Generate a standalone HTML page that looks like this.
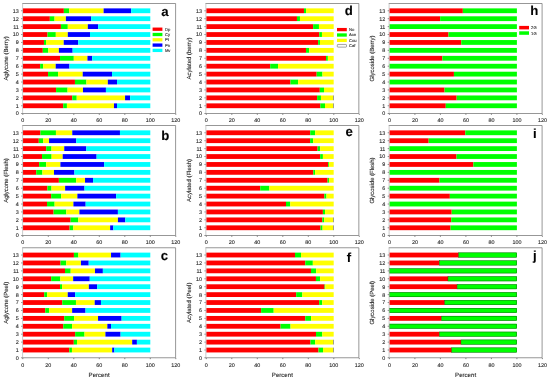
<!DOCTYPE html>
<html><head><meta charset="utf-8"><title>Figure</title>
<style>
html,body{margin:0;padding:0;background:#fff;}
body{width:550px;height:381px;overflow:hidden;font-family:"Liberation Sans",Arial,sans-serif;}
svg{display:block;}
svg text{stroke:#2a2a2a;stroke-width:0.12px;}
svg text.lg{stroke:#333;stroke-width:0.12px;}
</style></head><body>
<svg width="550" height="381" viewBox="0 0 550 381" font-family="Liberation Sans, Arial, sans-serif"  fill="#2a2a2a" shape-rendering="auto" text-rendering="geometricPrecision">
<rect x="22.9" y="103.38" width="40.32" height="4.8" fill="#ff0000"/>
<rect x="63.22" y="103.38" width="3.7" height="4.8" fill="#00ff00"/>
<rect x="66.92" y="103.38" width="47.05" height="4.8" fill="#ffff00"/>
<rect x="113.96" y="103.38" width="3.06" height="4.8" fill="#0000ff"/>
<rect x="117.02" y="103.38" width="33.28" height="4.8" fill="#00ffff"/>
<rect x="22.9" y="95.47" width="49.37" height="4.8" fill="#ff0000"/>
<rect x="72.27" y="95.47" width="4.46" height="4.8" fill="#00ff00"/>
<rect x="76.73" y="95.47" width="48.32" height="4.8" fill="#ffff00"/>
<rect x="125.06" y="95.47" width="5.1" height="4.8" fill="#0000ff"/>
<rect x="130.16" y="95.47" width="20.14" height="4.8" fill="#00ffff"/>
<rect x="22.9" y="87.55" width="33.18" height="4.8" fill="#ff0000"/>
<rect x="56.08" y="87.55" width="11.48" height="4.8" fill="#00ff00"/>
<rect x="67.55" y="87.55" width="15.43" height="4.8" fill="#ffff00"/>
<rect x="82.98" y="87.55" width="22.95" height="4.8" fill="#0000ff"/>
<rect x="105.93" y="87.55" width="44.37" height="4.8" fill="#00ffff"/>
<rect x="22.9" y="79.63" width="52.05" height="4.8" fill="#ff0000"/>
<rect x="74.95" y="79.63" width="11.48" height="4.8" fill="#00ff00"/>
<rect x="86.42" y="79.63" width="21.42" height="4.8" fill="#ffff00"/>
<rect x="107.84" y="79.63" width="9.18" height="4.8" fill="#0000ff"/>
<rect x="117.02" y="79.63" width="33.28" height="4.8" fill="#00ffff"/>
<rect x="22.9" y="71.72" width="25.14" height="4.8" fill="#ff0000"/>
<rect x="48.05" y="71.72" width="10.07" height="4.8" fill="#00ff00"/>
<rect x="58.12" y="71.72" width="24.61" height="4.8" fill="#ffff00"/>
<rect x="82.72" y="71.72" width="29.33" height="4.8" fill="#0000ff"/>
<rect x="112.05" y="71.72" width="38.25" height="4.8" fill="#00ffff"/>
<rect x="22.9" y="63.8" width="17.24" height="4.8" fill="#ff0000"/>
<rect x="40.14" y="63.8" width="3.06" height="4.8" fill="#00ff00"/>
<rect x="43.2" y="63.8" width="12.5" height="4.8" fill="#ffff00"/>
<rect x="55.7" y="63.8" width="13.77" height="4.8" fill="#0000ff"/>
<rect x="69.47" y="63.8" width="80.83" height="4.8" fill="#00ffff"/>
<rect x="22.9" y="55.88" width="37.13" height="4.8" fill="#ff0000"/>
<rect x="60.03" y="55.88" width="13.77" height="4.8" fill="#00ff00"/>
<rect x="73.8" y="55.88" width="13.64" height="4.8" fill="#ffff00"/>
<rect x="87.44" y="55.88" width="4.72" height="4.8" fill="#0000ff"/>
<rect x="92.16" y="55.88" width="58.14" height="4.8" fill="#00ffff"/>
<rect x="22.9" y="47.96" width="19.92" height="4.8" fill="#ff0000"/>
<rect x="42.82" y="47.96" width="5.48" height="4.8" fill="#00ff00"/>
<rect x="48.3" y="47.96" width="10.58" height="4.8" fill="#ffff00"/>
<rect x="58.88" y="47.96" width="13.77" height="4.8" fill="#0000ff"/>
<rect x="72.65" y="47.96" width="77.65" height="4.8" fill="#00ffff"/>
<rect x="22.9" y="40.05" width="21.06" height="4.8" fill="#ff0000"/>
<rect x="43.97" y="40.05" width="2.04" height="4.8" fill="#00ff00"/>
<rect x="46" y="40.05" width="17.72" height="4.8" fill="#ffff00"/>
<rect x="63.73" y="40.05" width="14.47" height="4.8" fill="#0000ff"/>
<rect x="78.2" y="40.05" width="72.1" height="4.8" fill="#00ffff"/>
<rect x="22.9" y="32.13" width="24.63" height="4.8" fill="#ff0000"/>
<rect x="47.53" y="32.13" width="8.29" height="4.8" fill="#00ff00"/>
<rect x="55.82" y="32.13" width="11.98" height="4.8" fill="#ffff00"/>
<rect x="67.81" y="32.13" width="22.19" height="4.8" fill="#0000ff"/>
<rect x="89.99" y="32.13" width="60.31" height="4.8" fill="#00ffff"/>
<rect x="22.9" y="24.21" width="38.02" height="4.8" fill="#ff0000"/>
<rect x="60.92" y="24.21" width="6.88" height="4.8" fill="#00ff00"/>
<rect x="67.81" y="24.21" width="20.02" height="4.8" fill="#ffff00"/>
<rect x="87.82" y="24.21" width="10.33" height="4.8" fill="#0000ff"/>
<rect x="98.15" y="24.21" width="52.15" height="4.8" fill="#00ffff"/>
<rect x="22.9" y="16.3" width="26.93" height="4.8" fill="#ff0000"/>
<rect x="49.83" y="16.3" width="4.72" height="4.8" fill="#00ff00"/>
<rect x="54.55" y="16.3" width="11.35" height="4.8" fill="#ffff00"/>
<rect x="65.89" y="16.3" width="25.25" height="4.8" fill="#0000ff"/>
<rect x="91.14" y="16.3" width="59.16" height="4.8" fill="#00ffff"/>
<rect x="22.9" y="8.38" width="40.96" height="4.8" fill="#ff0000"/>
<rect x="63.86" y="8.38" width="5.35" height="4.8" fill="#00ff00"/>
<rect x="69.21" y="8.38" width="34.42" height="4.8" fill="#ffff00"/>
<rect x="103.63" y="8.38" width="27.54" height="4.8" fill="#0000ff"/>
<rect x="131.17" y="8.38" width="19.12" height="4.8" fill="#00ffff"/>
<path d="M22.25 3.5H175.6V113.5H22.25" fill="none" stroke="#6a6a6a" stroke-width="0.7"/>
<path d="M22.6 3.5V113.5" fill="none" stroke="#b4b4b4" stroke-width="0.7"/>
<line x1="21.2" y1="113.5" x2="22.4" y2="113.5" stroke="#555" stroke-width="0.7"/>
<text x="18.8" y="115.44" font-size="5.4" text-anchor="end">0</text>
<line x1="21.2" y1="105.78" x2="22.4" y2="105.78" stroke="#555" stroke-width="0.7"/>
<text x="18.8" y="107.73" font-size="5.4" text-anchor="end">1</text>
<line x1="21.2" y1="97.87" x2="22.4" y2="97.87" stroke="#555" stroke-width="0.7"/>
<text x="18.8" y="99.81" font-size="5.4" text-anchor="end">2</text>
<line x1="21.2" y1="89.95" x2="22.4" y2="89.95" stroke="#555" stroke-width="0.7"/>
<text x="18.8" y="91.89" font-size="5.4" text-anchor="end">3</text>
<line x1="21.2" y1="82.03" x2="22.4" y2="82.03" stroke="#555" stroke-width="0.7"/>
<text x="18.8" y="83.98" font-size="5.4" text-anchor="end">4</text>
<line x1="21.2" y1="74.12" x2="22.4" y2="74.12" stroke="#555" stroke-width="0.7"/>
<text x="18.8" y="76.06" font-size="5.4" text-anchor="end">5</text>
<line x1="21.2" y1="66.2" x2="22.4" y2="66.2" stroke="#555" stroke-width="0.7"/>
<text x="18.8" y="68.14" font-size="5.4" text-anchor="end">6</text>
<line x1="21.2" y1="58.28" x2="22.4" y2="58.28" stroke="#555" stroke-width="0.7"/>
<text x="18.8" y="60.23" font-size="5.4" text-anchor="end">7</text>
<line x1="21.2" y1="50.36" x2="22.4" y2="50.36" stroke="#555" stroke-width="0.7"/>
<text x="18.8" y="52.31" font-size="5.4" text-anchor="end">8</text>
<line x1="21.2" y1="42.45" x2="22.4" y2="42.45" stroke="#555" stroke-width="0.7"/>
<text x="18.8" y="44.39" font-size="5.4" text-anchor="end">9</text>
<line x1="21.2" y1="34.53" x2="22.4" y2="34.53" stroke="#555" stroke-width="0.7"/>
<text x="18.8" y="36.47" font-size="5.4" text-anchor="end">10</text>
<line x1="21.2" y1="26.61" x2="22.4" y2="26.61" stroke="#555" stroke-width="0.7"/>
<text x="18.8" y="28.56" font-size="5.4" text-anchor="end">11</text>
<line x1="21.2" y1="18.7" x2="22.4" y2="18.7" stroke="#555" stroke-width="0.7"/>
<text x="18.8" y="20.64" font-size="5.4" text-anchor="end">12</text>
<line x1="21.2" y1="10.78" x2="22.4" y2="10.78" stroke="#555" stroke-width="0.7"/>
<text x="18.8" y="12.72" font-size="5.4" text-anchor="end">13</text>
<line x1="22.8" y1="113.7" x2="22.8" y2="114.9" stroke="#555" stroke-width="0.7"/>
<text x="22.8" y="122.4" font-size="5.4" text-anchor="middle">0</text>
<line x1="48.3" y1="113.7" x2="48.3" y2="114.9" stroke="#555" stroke-width="0.7"/>
<text x="48.3" y="122.4" font-size="5.4" text-anchor="middle">20</text>
<line x1="73.8" y1="113.7" x2="73.8" y2="114.9" stroke="#555" stroke-width="0.7"/>
<text x="73.8" y="122.4" font-size="5.4" text-anchor="middle">40</text>
<line x1="99.3" y1="113.7" x2="99.3" y2="114.9" stroke="#555" stroke-width="0.7"/>
<text x="99.3" y="122.4" font-size="5.4" text-anchor="middle">60</text>
<line x1="124.8" y1="113.7" x2="124.8" y2="114.9" stroke="#555" stroke-width="0.7"/>
<text x="124.8" y="122.4" font-size="5.4" text-anchor="middle">80</text>
<line x1="150.3" y1="113.7" x2="150.3" y2="114.9" stroke="#555" stroke-width="0.7"/>
<text x="150.3" y="122.4" font-size="5.4" text-anchor="middle">100</text>
<line x1="175.8" y1="113.7" x2="175.8" y2="114.9" stroke="#555" stroke-width="0.7"/>
<text x="175.8" y="122.4" font-size="5.4" text-anchor="middle">120</text>
<text transform="translate(7.5 58.5) rotate(-90)" font-size="5.95" text-anchor="middle">Aglycone (Berry)</text>
<text x="165" y="15.6" font-size="13.2" text-anchor="middle" font-weight="bold" fill="#000">a</text>
<rect x="22.9" y="225.38" width="46.69" height="4.8" fill="#ff0000"/>
<rect x="69.59" y="225.38" width="3.7" height="4.8" fill="#00ff00"/>
<rect x="73.29" y="225.38" width="36.85" height="4.8" fill="#ffff00"/>
<rect x="110.14" y="225.38" width="3.19" height="4.8" fill="#0000ff"/>
<rect x="113.32" y="225.38" width="36.97" height="4.8" fill="#00ffff"/>
<rect x="22.9" y="217.47" width="47.71" height="4.8" fill="#ff0000"/>
<rect x="70.61" y="217.47" width="7.65" height="4.8" fill="#00ff00"/>
<rect x="78.26" y="217.47" width="39.65" height="4.8" fill="#ffff00"/>
<rect x="117.91" y="217.47" width="7.4" height="4.8" fill="#0000ff"/>
<rect x="125.31" y="217.47" width="24.99" height="4.8" fill="#00ffff"/>
<rect x="22.9" y="209.55" width="30.69" height="4.8" fill="#ff0000"/>
<rect x="53.59" y="209.55" width="12.69" height="4.8" fill="#00ff00"/>
<rect x="66.28" y="209.55" width="13.13" height="4.8" fill="#ffff00"/>
<rect x="79.41" y="209.55" width="38.5" height="4.8" fill="#0000ff"/>
<rect x="117.91" y="209.55" width="32.39" height="4.8" fill="#00ffff"/>
<rect x="22.9" y="201.63" width="24.12" height="4.8" fill="#ff0000"/>
<rect x="47.02" y="201.63" width="7.59" height="4.8" fill="#00ff00"/>
<rect x="54.61" y="201.63" width="18.81" height="4.8" fill="#ffff00"/>
<rect x="73.42" y="201.63" width="12.24" height="4.8" fill="#0000ff"/>
<rect x="85.66" y="201.63" width="64.64" height="4.8" fill="#00ffff"/>
<rect x="22.9" y="193.71" width="28.27" height="4.8" fill="#ff0000"/>
<rect x="51.17" y="193.71" width="10.01" height="4.8" fill="#00ff00"/>
<rect x="61.18" y="193.71" width="16.19" height="4.8" fill="#ffff00"/>
<rect x="77.37" y="193.71" width="38.76" height="4.8" fill="#0000ff"/>
<rect x="116.13" y="193.71" width="34.17" height="4.8" fill="#00ffff"/>
<rect x="22.9" y="185.8" width="24.51" height="4.8" fill="#ff0000"/>
<rect x="47.41" y="185.8" width="4.08" height="4.8" fill="#00ff00"/>
<rect x="51.49" y="185.8" width="13.64" height="4.8" fill="#ffff00"/>
<rect x="65.13" y="185.8" width="19.38" height="4.8" fill="#0000ff"/>
<rect x="84.51" y="185.8" width="65.79" height="4.8" fill="#00ffff"/>
<rect x="22.9" y="177.88" width="35.98" height="4.8" fill="#ff0000"/>
<rect x="58.88" y="177.88" width="17.34" height="4.8" fill="#00ff00"/>
<rect x="76.22" y="177.88" width="8.8" height="4.8" fill="#ffff00"/>
<rect x="85.02" y="177.88" width="8.03" height="4.8" fill="#0000ff"/>
<rect x="93.05" y="177.88" width="57.25" height="4.8" fill="#00ffff"/>
<rect x="22.9" y="169.96" width="13.35" height="4.8" fill="#ff0000"/>
<rect x="36.25" y="169.96" width="6.18" height="4.8" fill="#00ff00"/>
<rect x="42.44" y="169.96" width="11.54" height="4.8" fill="#ffff00"/>
<rect x="53.97" y="169.96" width="20.46" height="4.8" fill="#0000ff"/>
<rect x="74.44" y="169.96" width="75.86" height="4.8" fill="#00ffff"/>
<rect x="22.9" y="162.05" width="16.22" height="4.8" fill="#ff0000"/>
<rect x="39.12" y="162.05" width="7.08" height="4.8" fill="#00ff00"/>
<rect x="46.2" y="162.05" width="14.22" height="4.8" fill="#ffff00"/>
<rect x="60.41" y="162.05" width="43.73" height="4.8" fill="#0000ff"/>
<rect x="104.14" y="162.05" width="46.16" height="4.8" fill="#00ffff"/>
<rect x="22.9" y="154.13" width="19.15" height="4.8" fill="#ff0000"/>
<rect x="42.05" y="154.13" width="9.56" height="4.8" fill="#00ff00"/>
<rect x="51.62" y="154.13" width="11.09" height="4.8" fill="#ffff00"/>
<rect x="62.71" y="154.13" width="33.91" height="4.8" fill="#0000ff"/>
<rect x="96.62" y="154.13" width="53.68" height="4.8" fill="#00ffff"/>
<rect x="22.9" y="146.21" width="23.3" height="4.8" fill="#ff0000"/>
<rect x="46.2" y="146.21" width="5.29" height="4.8" fill="#00ff00"/>
<rect x="51.49" y="146.21" width="12.75" height="4.8" fill="#ffff00"/>
<rect x="64.24" y="146.21" width="22.06" height="4.8" fill="#0000ff"/>
<rect x="86.29" y="146.21" width="64" height="4.8" fill="#00ffff"/>
<rect x="22.9" y="138.3" width="15.9" height="4.8" fill="#ff0000"/>
<rect x="38.8" y="138.3" width="4.46" height="4.8" fill="#00ff00"/>
<rect x="43.26" y="138.3" width="5.8" height="4.8" fill="#ffff00"/>
<rect x="49.06" y="138.3" width="27.16" height="4.8" fill="#0000ff"/>
<rect x="76.22" y="138.3" width="74.08" height="4.8" fill="#00ffff"/>
<rect x="22.9" y="130.38" width="17.56" height="4.8" fill="#ff0000"/>
<rect x="40.46" y="130.38" width="15.49" height="4.8" fill="#00ff00"/>
<rect x="55.95" y="130.38" width="16.32" height="4.8" fill="#ffff00"/>
<rect x="72.27" y="130.38" width="47.69" height="4.8" fill="#0000ff"/>
<rect x="119.96" y="130.38" width="30.34" height="4.8" fill="#00ffff"/>
<path d="M22.25 125.5H175.6V235.5H22.25" fill="none" stroke="#6a6a6a" stroke-width="0.7"/>
<path d="M22.6 125.5V235.5" fill="none" stroke="#b4b4b4" stroke-width="0.7"/>
<line x1="21.2" y1="235.5" x2="22.4" y2="235.5" stroke="#555" stroke-width="0.7"/>
<text x="18.8" y="237.44" font-size="5.4" text-anchor="end">0</text>
<line x1="21.2" y1="227.78" x2="22.4" y2="227.78" stroke="#555" stroke-width="0.7"/>
<text x="18.8" y="229.73" font-size="5.4" text-anchor="end">1</text>
<line x1="21.2" y1="219.87" x2="22.4" y2="219.87" stroke="#555" stroke-width="0.7"/>
<text x="18.8" y="221.81" font-size="5.4" text-anchor="end">2</text>
<line x1="21.2" y1="211.95" x2="22.4" y2="211.95" stroke="#555" stroke-width="0.7"/>
<text x="18.8" y="213.89" font-size="5.4" text-anchor="end">3</text>
<line x1="21.2" y1="204.03" x2="22.4" y2="204.03" stroke="#555" stroke-width="0.7"/>
<text x="18.8" y="205.98" font-size="5.4" text-anchor="end">4</text>
<line x1="21.2" y1="196.11" x2="22.4" y2="196.11" stroke="#555" stroke-width="0.7"/>
<text x="18.8" y="198.06" font-size="5.4" text-anchor="end">5</text>
<line x1="21.2" y1="188.2" x2="22.4" y2="188.2" stroke="#555" stroke-width="0.7"/>
<text x="18.8" y="190.14" font-size="5.4" text-anchor="end">6</text>
<line x1="21.2" y1="180.28" x2="22.4" y2="180.28" stroke="#555" stroke-width="0.7"/>
<text x="18.8" y="182.22" font-size="5.4" text-anchor="end">7</text>
<line x1="21.2" y1="172.36" x2="22.4" y2="172.36" stroke="#555" stroke-width="0.7"/>
<text x="18.8" y="174.31" font-size="5.4" text-anchor="end">8</text>
<line x1="21.2" y1="164.45" x2="22.4" y2="164.45" stroke="#555" stroke-width="0.7"/>
<text x="18.8" y="166.39" font-size="5.4" text-anchor="end">9</text>
<line x1="21.2" y1="156.53" x2="22.4" y2="156.53" stroke="#555" stroke-width="0.7"/>
<text x="18.8" y="158.47" font-size="5.4" text-anchor="end">10</text>
<line x1="21.2" y1="148.61" x2="22.4" y2="148.61" stroke="#555" stroke-width="0.7"/>
<text x="18.8" y="150.56" font-size="5.4" text-anchor="end">11</text>
<line x1="21.2" y1="140.7" x2="22.4" y2="140.7" stroke="#555" stroke-width="0.7"/>
<text x="18.8" y="142.64" font-size="5.4" text-anchor="end">12</text>
<line x1="21.2" y1="132.78" x2="22.4" y2="132.78" stroke="#555" stroke-width="0.7"/>
<text x="18.8" y="134.72" font-size="5.4" text-anchor="end">13</text>
<line x1="22.8" y1="235.7" x2="22.8" y2="236.9" stroke="#555" stroke-width="0.7"/>
<text x="22.8" y="244.4" font-size="5.4" text-anchor="middle">0</text>
<line x1="48.3" y1="235.7" x2="48.3" y2="236.9" stroke="#555" stroke-width="0.7"/>
<text x="48.3" y="244.4" font-size="5.4" text-anchor="middle">20</text>
<line x1="73.8" y1="235.7" x2="73.8" y2="236.9" stroke="#555" stroke-width="0.7"/>
<text x="73.8" y="244.4" font-size="5.4" text-anchor="middle">40</text>
<line x1="99.3" y1="235.7" x2="99.3" y2="236.9" stroke="#555" stroke-width="0.7"/>
<text x="99.3" y="244.4" font-size="5.4" text-anchor="middle">60</text>
<line x1="124.8" y1="235.7" x2="124.8" y2="236.9" stroke="#555" stroke-width="0.7"/>
<text x="124.8" y="244.4" font-size="5.4" text-anchor="middle">80</text>
<line x1="150.3" y1="235.7" x2="150.3" y2="236.9" stroke="#555" stroke-width="0.7"/>
<text x="150.3" y="244.4" font-size="5.4" text-anchor="middle">100</text>
<line x1="175.8" y1="235.7" x2="175.8" y2="236.9" stroke="#555" stroke-width="0.7"/>
<text x="175.8" y="244.4" font-size="5.4" text-anchor="middle">120</text>
<text transform="translate(7.5 180.5) rotate(-90)" font-size="5.95" text-anchor="middle">Aglycone (Flesh)</text>
<text x="165.3" y="140" font-size="13.2" text-anchor="middle" font-weight="bold" fill="#000">b</text>
<rect x="22.9" y="347.63" width="46.37" height="4.8" fill="#ff0000"/>
<rect x="69.27" y="347.63" width="2.68" height="4.8" fill="#00ff00"/>
<rect x="71.95" y="347.63" width="40.23" height="4.8" fill="#ffff00"/>
<rect x="112.18" y="347.63" width="2.17" height="4.8" fill="#0000ff"/>
<rect x="114.34" y="347.63" width="35.95" height="4.8" fill="#00ffff"/>
<rect x="22.9" y="339.72" width="50.9" height="4.8" fill="#ff0000"/>
<rect x="73.8" y="339.72" width="3.19" height="4.8" fill="#00ff00"/>
<rect x="76.99" y="339.72" width="55.21" height="4.8" fill="#ffff00"/>
<rect x="132.19" y="339.72" width="4.72" height="4.8" fill="#0000ff"/>
<rect x="136.91" y="339.72" width="13.39" height="4.8" fill="#00ffff"/>
<rect x="22.9" y="331.8" width="52.24" height="4.8" fill="#ff0000"/>
<rect x="75.14" y="331.8" width="9.37" height="4.8" fill="#00ff00"/>
<rect x="84.51" y="331.8" width="20.91" height="4.8" fill="#ffff00"/>
<rect x="105.42" y="331.8" width="15.17" height="4.8" fill="#0000ff"/>
<rect x="120.59" y="331.8" width="29.71" height="4.8" fill="#00ffff"/>
<rect x="22.9" y="323.88" width="40.38" height="4.8" fill="#ff0000"/>
<rect x="63.28" y="323.88" width="8.86" height="4.8" fill="#00ff00"/>
<rect x="72.14" y="323.88" width="35.19" height="4.8" fill="#ffff00"/>
<rect x="107.33" y="323.88" width="3.7" height="4.8" fill="#0000ff"/>
<rect x="111.03" y="323.88" width="39.27" height="4.8" fill="#00ffff"/>
<rect x="22.9" y="315.97" width="41.34" height="4.8" fill="#ff0000"/>
<rect x="64.24" y="315.97" width="9.88" height="4.8" fill="#00ff00"/>
<rect x="74.12" y="315.97" width="23.91" height="4.8" fill="#ffff00"/>
<rect x="98.03" y="315.97" width="23.59" height="4.8" fill="#0000ff"/>
<rect x="121.61" y="315.97" width="28.69" height="4.8" fill="#00ffff"/>
<rect x="22.9" y="308.05" width="22.34" height="4.8" fill="#ff0000"/>
<rect x="45.24" y="308.05" width="3.89" height="4.8" fill="#00ff00"/>
<rect x="49.13" y="308.05" width="23.01" height="4.8" fill="#ffff00"/>
<rect x="72.14" y="308.05" width="13.39" height="4.8" fill="#0000ff"/>
<rect x="85.53" y="308.05" width="64.77" height="4.8" fill="#00ffff"/>
<rect x="22.9" y="300.13" width="39.36" height="4.8" fill="#ff0000"/>
<rect x="62.26" y="300.13" width="13.71" height="4.8" fill="#00ff00"/>
<rect x="75.97" y="300.13" width="18.74" height="4.8" fill="#ffff00"/>
<rect x="94.71" y="300.13" width="6.25" height="4.8" fill="#0000ff"/>
<rect x="100.96" y="300.13" width="49.34" height="4.8" fill="#00ffff"/>
<rect x="22.9" y="292.21" width="21.32" height="4.8" fill="#ff0000"/>
<rect x="44.22" y="292.21" width="2.93" height="4.8" fill="#00ff00"/>
<rect x="47.15" y="292.21" width="20.59" height="4.8" fill="#ffff00"/>
<rect x="67.74" y="292.21" width="7.39" height="4.8" fill="#0000ff"/>
<rect x="75.14" y="292.21" width="75.16" height="4.8" fill="#00ffff"/>
<rect x="22.9" y="284.3" width="37.13" height="4.8" fill="#ff0000"/>
<rect x="60.03" y="284.3" width="2.1" height="4.8" fill="#00ff00"/>
<rect x="62.13" y="284.3" width="26.71" height="4.8" fill="#ffff00"/>
<rect x="88.84" y="284.3" width="8.29" height="4.8" fill="#0000ff"/>
<rect x="97.13" y="284.3" width="53.17" height="4.8" fill="#00ffff"/>
<rect x="22.9" y="276.38" width="28.27" height="4.8" fill="#ff0000"/>
<rect x="51.17" y="276.38" width="9.18" height="4.8" fill="#00ff00"/>
<rect x="60.35" y="276.38" width="12.81" height="4.8" fill="#ffff00"/>
<rect x="73.16" y="276.38" width="16.58" height="4.8" fill="#0000ff"/>
<rect x="89.74" y="276.38" width="60.56" height="4.8" fill="#00ffff"/>
<rect x="22.9" y="268.46" width="42.1" height="4.8" fill="#ff0000"/>
<rect x="65" y="268.46" width="5.67" height="4.8" fill="#00ff00"/>
<rect x="70.68" y="268.46" width="24.29" height="4.8" fill="#ffff00"/>
<rect x="94.97" y="268.46" width="7.91" height="4.8" fill="#0000ff"/>
<rect x="102.87" y="268.46" width="47.43" height="4.8" fill="#00ffff"/>
<rect x="22.9" y="260.55" width="37.64" height="4.8" fill="#ff0000"/>
<rect x="60.54" y="260.55" width="5.67" height="4.8" fill="#00ff00"/>
<rect x="66.21" y="260.55" width="14.73" height="4.8" fill="#ffff00"/>
<rect x="80.94" y="260.55" width="7.78" height="4.8" fill="#0000ff"/>
<rect x="88.72" y="260.55" width="61.58" height="4.8" fill="#00ffff"/>
<rect x="22.9" y="252.63" width="51.03" height="4.8" fill="#ff0000"/>
<rect x="73.93" y="252.63" width="4.46" height="4.8" fill="#00ff00"/>
<rect x="78.39" y="252.63" width="32.64" height="4.8" fill="#ffff00"/>
<rect x="111.03" y="252.63" width="9.56" height="4.8" fill="#0000ff"/>
<rect x="120.59" y="252.63" width="29.71" height="4.8" fill="#00ffff"/>
<path d="M22.25 247.75H175.6V357.75H22.25" fill="none" stroke="#6a6a6a" stroke-width="0.7"/>
<path d="M22.6 247.75V357.75" fill="none" stroke="#b4b4b4" stroke-width="0.7"/>
<line x1="21.2" y1="357.75" x2="22.4" y2="357.75" stroke="#555" stroke-width="0.7"/>
<text x="18.8" y="359.69" font-size="5.4" text-anchor="end">0</text>
<line x1="21.2" y1="350.03" x2="22.4" y2="350.03" stroke="#555" stroke-width="0.7"/>
<text x="18.8" y="351.98" font-size="5.4" text-anchor="end">1</text>
<line x1="21.2" y1="342.12" x2="22.4" y2="342.12" stroke="#555" stroke-width="0.7"/>
<text x="18.8" y="344.06" font-size="5.4" text-anchor="end">2</text>
<line x1="21.2" y1="334.2" x2="22.4" y2="334.2" stroke="#555" stroke-width="0.7"/>
<text x="18.8" y="336.14" font-size="5.4" text-anchor="end">3</text>
<line x1="21.2" y1="326.28" x2="22.4" y2="326.28" stroke="#555" stroke-width="0.7"/>
<text x="18.8" y="328.23" font-size="5.4" text-anchor="end">4</text>
<line x1="21.2" y1="318.37" x2="22.4" y2="318.37" stroke="#555" stroke-width="0.7"/>
<text x="18.8" y="320.31" font-size="5.4" text-anchor="end">5</text>
<line x1="21.2" y1="310.45" x2="22.4" y2="310.45" stroke="#555" stroke-width="0.7"/>
<text x="18.8" y="312.39" font-size="5.4" text-anchor="end">6</text>
<line x1="21.2" y1="302.53" x2="22.4" y2="302.53" stroke="#555" stroke-width="0.7"/>
<text x="18.8" y="304.48" font-size="5.4" text-anchor="end">7</text>
<line x1="21.2" y1="294.61" x2="22.4" y2="294.61" stroke="#555" stroke-width="0.7"/>
<text x="18.8" y="296.56" font-size="5.4" text-anchor="end">8</text>
<line x1="21.2" y1="286.7" x2="22.4" y2="286.7" stroke="#555" stroke-width="0.7"/>
<text x="18.8" y="288.64" font-size="5.4" text-anchor="end">9</text>
<line x1="21.2" y1="278.78" x2="22.4" y2="278.78" stroke="#555" stroke-width="0.7"/>
<text x="18.8" y="280.72" font-size="5.4" text-anchor="end">10</text>
<line x1="21.2" y1="270.86" x2="22.4" y2="270.86" stroke="#555" stroke-width="0.7"/>
<text x="18.8" y="272.81" font-size="5.4" text-anchor="end">11</text>
<line x1="21.2" y1="262.95" x2="22.4" y2="262.95" stroke="#555" stroke-width="0.7"/>
<text x="18.8" y="264.89" font-size="5.4" text-anchor="end">12</text>
<line x1="21.2" y1="255.03" x2="22.4" y2="255.03" stroke="#555" stroke-width="0.7"/>
<text x="18.8" y="256.97" font-size="5.4" text-anchor="end">13</text>
<line x1="22.8" y1="357.95" x2="22.8" y2="359.15" stroke="#555" stroke-width="0.7"/>
<text x="22.8" y="366.65" font-size="5.4" text-anchor="middle">0</text>
<line x1="48.3" y1="357.95" x2="48.3" y2="359.15" stroke="#555" stroke-width="0.7"/>
<text x="48.3" y="366.65" font-size="5.4" text-anchor="middle">20</text>
<line x1="73.8" y1="357.95" x2="73.8" y2="359.15" stroke="#555" stroke-width="0.7"/>
<text x="73.8" y="366.65" font-size="5.4" text-anchor="middle">40</text>
<line x1="99.3" y1="357.95" x2="99.3" y2="359.15" stroke="#555" stroke-width="0.7"/>
<text x="99.3" y="366.65" font-size="5.4" text-anchor="middle">60</text>
<line x1="124.8" y1="357.95" x2="124.8" y2="359.15" stroke="#555" stroke-width="0.7"/>
<text x="124.8" y="366.65" font-size="5.4" text-anchor="middle">80</text>
<line x1="150.3" y1="357.95" x2="150.3" y2="359.15" stroke="#555" stroke-width="0.7"/>
<text x="150.3" y="366.65" font-size="5.4" text-anchor="middle">100</text>
<line x1="175.8" y1="357.95" x2="175.8" y2="359.15" stroke="#555" stroke-width="0.7"/>
<text x="175.8" y="366.65" font-size="5.4" text-anchor="middle">120</text>
<text transform="translate(7.5 302.75) rotate(-90)" font-size="5.95" text-anchor="middle">Aglycone (Peel)</text>
<text x="99.1" y="377.15" font-size="6.1" text-anchor="middle">Percent</text>
<text x="164.5" y="260" font-size="13.2" text-anchor="middle" font-weight="bold" fill="#000">c</text>
<rect x="206.3" y="103.38" width="114.06" height="4.8" fill="#ff0000"/>
<rect x="320.36" y="103.38" width="4.65" height="4.8" fill="#00ff00"/>
<rect x="325.02" y="103.38" width="8.16" height="4.8" fill="#ffff00"/>
<rect x="333.18" y="103.38" width="0.51" height="4.8" fill="#444444"/>
<rect x="206.3" y="95.47" width="110.81" height="4.8" fill="#ff0000"/>
<rect x="317.11" y="95.47" width="3.83" height="4.8" fill="#00ff00"/>
<rect x="320.94" y="95.47" width="12.24" height="4.8" fill="#ffff00"/>
<rect x="333.18" y="95.47" width="0.51" height="4.8" fill="#444444"/>
<rect x="206.3" y="87.55" width="113.49" height="4.8" fill="#ff0000"/>
<rect x="319.79" y="87.55" width="4.21" height="4.8" fill="#00ff00"/>
<rect x="324" y="87.55" width="9.69" height="4.8" fill="#ffff00"/>
<rect x="206.3" y="79.63" width="84.16" height="4.8" fill="#ff0000"/>
<rect x="290.46" y="79.63" width="7.65" height="4.8" fill="#00ff00"/>
<rect x="298.11" y="79.63" width="35.57" height="4.8" fill="#ffff00"/>
<rect x="206.3" y="71.72" width="110.36" height="4.8" fill="#ff0000"/>
<rect x="316.66" y="71.72" width="5.8" height="4.8" fill="#00ff00"/>
<rect x="322.47" y="71.72" width="11.22" height="4.8" fill="#ffff00"/>
<rect x="206.3" y="63.8" width="63.89" height="4.8" fill="#ff0000"/>
<rect x="270.19" y="63.8" width="7.84" height="4.8" fill="#00ff00"/>
<rect x="278.03" y="63.8" width="55.65" height="4.8" fill="#ffff00"/>
<rect x="206.3" y="55.88" width="119.74" height="4.8" fill="#ff0000"/>
<rect x="326.04" y="55.88" width="1.85" height="4.8" fill="#00ff00"/>
<rect x="327.88" y="55.88" width="5.8" height="4.8" fill="#ffff00"/>
<rect x="206.3" y="47.96" width="99.72" height="4.8" fill="#ff0000"/>
<rect x="306.02" y="47.96" width="3.19" height="4.8" fill="#00ff00"/>
<rect x="309.21" y="47.96" width="24.48" height="4.8" fill="#ffff00"/>
<rect x="206.3" y="40.05" width="111.83" height="4.8" fill="#ff0000"/>
<rect x="318.13" y="40.05" width="1.85" height="4.8" fill="#00ff00"/>
<rect x="319.98" y="40.05" width="13.71" height="4.8" fill="#ffff00"/>
<rect x="206.3" y="32.13" width="112.98" height="4.8" fill="#ff0000"/>
<rect x="319.28" y="32.13" width="2.68" height="4.8" fill="#00ff00"/>
<rect x="321.96" y="32.13" width="11.73" height="4.8" fill="#ffff00"/>
<rect x="206.3" y="24.21" width="106.86" height="4.8" fill="#ff0000"/>
<rect x="313.16" y="24.21" width="5.8" height="4.8" fill="#00ff00"/>
<rect x="318.96" y="24.21" width="14.73" height="4.8" fill="#ffff00"/>
<rect x="206.3" y="16.3" width="90.67" height="4.8" fill="#ff0000"/>
<rect x="296.97" y="16.3" width="3" height="4.8" fill="#00ff00"/>
<rect x="299.96" y="16.3" width="33.72" height="4.8" fill="#ffff00"/>
<rect x="206.3" y="8.38" width="97.68" height="4.8" fill="#ff0000"/>
<rect x="303.98" y="8.38" width="2.04" height="4.8" fill="#00ff00"/>
<rect x="306.02" y="8.38" width="27.67" height="4.8" fill="#ffff00"/>
<path d="M205.5 3.5H358.85V113.5H205.5" fill="none" stroke="#6a6a6a" stroke-width="0.7"/>
<path d="M205.85 3.5V113.5" fill="none" stroke="#b4b4b4" stroke-width="0.7"/>
<line x1="204.45" y1="113.5" x2="205.65" y2="113.5" stroke="#555" stroke-width="0.7"/>
<text x="202.05" y="115.44" font-size="5.4" text-anchor="end">0</text>
<line x1="204.45" y1="105.78" x2="205.65" y2="105.78" stroke="#555" stroke-width="0.7"/>
<text x="202.05" y="107.73" font-size="5.4" text-anchor="end">1</text>
<line x1="204.45" y1="97.87" x2="205.65" y2="97.87" stroke="#555" stroke-width="0.7"/>
<text x="202.05" y="99.81" font-size="5.4" text-anchor="end">2</text>
<line x1="204.45" y1="89.95" x2="205.65" y2="89.95" stroke="#555" stroke-width="0.7"/>
<text x="202.05" y="91.89" font-size="5.4" text-anchor="end">3</text>
<line x1="204.45" y1="82.03" x2="205.65" y2="82.03" stroke="#555" stroke-width="0.7"/>
<text x="202.05" y="83.98" font-size="5.4" text-anchor="end">4</text>
<line x1="204.45" y1="74.12" x2="205.65" y2="74.12" stroke="#555" stroke-width="0.7"/>
<text x="202.05" y="76.06" font-size="5.4" text-anchor="end">5</text>
<line x1="204.45" y1="66.2" x2="205.65" y2="66.2" stroke="#555" stroke-width="0.7"/>
<text x="202.05" y="68.14" font-size="5.4" text-anchor="end">6</text>
<line x1="204.45" y1="58.28" x2="205.65" y2="58.28" stroke="#555" stroke-width="0.7"/>
<text x="202.05" y="60.23" font-size="5.4" text-anchor="end">7</text>
<line x1="204.45" y1="50.36" x2="205.65" y2="50.36" stroke="#555" stroke-width="0.7"/>
<text x="202.05" y="52.31" font-size="5.4" text-anchor="end">8</text>
<line x1="204.45" y1="42.45" x2="205.65" y2="42.45" stroke="#555" stroke-width="0.7"/>
<text x="202.05" y="44.39" font-size="5.4" text-anchor="end">9</text>
<line x1="204.45" y1="34.53" x2="205.65" y2="34.53" stroke="#555" stroke-width="0.7"/>
<text x="202.05" y="36.47" font-size="5.4" text-anchor="end">10</text>
<line x1="204.45" y1="26.61" x2="205.65" y2="26.61" stroke="#555" stroke-width="0.7"/>
<text x="202.05" y="28.56" font-size="5.4" text-anchor="end">11</text>
<line x1="204.45" y1="18.7" x2="205.65" y2="18.7" stroke="#555" stroke-width="0.7"/>
<text x="202.05" y="20.64" font-size="5.4" text-anchor="end">12</text>
<line x1="204.45" y1="10.78" x2="205.65" y2="10.78" stroke="#555" stroke-width="0.7"/>
<text x="202.05" y="12.72" font-size="5.4" text-anchor="end">13</text>
<line x1="206.3" y1="113.7" x2="206.3" y2="114.9" stroke="#555" stroke-width="0.7"/>
<text x="206.3" y="122.4" font-size="5.4" text-anchor="middle">0</text>
<line x1="231.8" y1="113.7" x2="231.8" y2="114.9" stroke="#555" stroke-width="0.7"/>
<text x="231.8" y="122.4" font-size="5.4" text-anchor="middle">20</text>
<line x1="257.3" y1="113.7" x2="257.3" y2="114.9" stroke="#555" stroke-width="0.7"/>
<text x="257.3" y="122.4" font-size="5.4" text-anchor="middle">40</text>
<line x1="282.8" y1="113.7" x2="282.8" y2="114.9" stroke="#555" stroke-width="0.7"/>
<text x="282.8" y="122.4" font-size="5.4" text-anchor="middle">60</text>
<line x1="308.3" y1="113.7" x2="308.3" y2="114.9" stroke="#555" stroke-width="0.7"/>
<text x="308.3" y="122.4" font-size="5.4" text-anchor="middle">80</text>
<line x1="333.8" y1="113.7" x2="333.8" y2="114.9" stroke="#555" stroke-width="0.7"/>
<text x="333.8" y="122.4" font-size="5.4" text-anchor="middle">100</text>
<line x1="359.3" y1="113.7" x2="359.3" y2="114.9" stroke="#555" stroke-width="0.7"/>
<text x="359.3" y="122.4" font-size="5.4" text-anchor="middle">120</text>
<text transform="translate(190.75 58.5) rotate(-90)" font-size="5.95" text-anchor="middle">Acylated (berry)</text>
<text x="348.7" y="15.4" font-size="13.2" text-anchor="middle" font-weight="bold" fill="#000">d</text>
<rect x="206.3" y="225.38" width="114.25" height="4.8" fill="#ff0000"/>
<rect x="320.55" y="225.38" width="2.04" height="4.8" fill="#00ff00"/>
<rect x="322.59" y="225.38" width="10.58" height="4.8" fill="#ffff00"/>
<rect x="333.18" y="225.38" width="0.51" height="4.8" fill="#444444"/>
<rect x="206.3" y="217.47" width="116.04" height="4.8" fill="#ff0000"/>
<rect x="322.34" y="217.47" width="1.85" height="4.8" fill="#00ff00"/>
<rect x="324.19" y="217.47" width="8.99" height="4.8" fill="#ffff00"/>
<rect x="333.18" y="217.47" width="0.51" height="4.8" fill="#444444"/>
<rect x="206.3" y="209.55" width="116.61" height="4.8" fill="#ff0000"/>
<rect x="322.91" y="209.55" width="2.1" height="4.8" fill="#00ff00"/>
<rect x="325.02" y="209.55" width="8.67" height="4.8" fill="#ffff00"/>
<rect x="206.3" y="201.63" width="79.7" height="4.8" fill="#ff0000"/>
<rect x="286" y="201.63" width="4.21" height="4.8" fill="#00ff00"/>
<rect x="290.21" y="201.63" width="43.48" height="4.8" fill="#ffff00"/>
<rect x="206.3" y="193.71" width="118.08" height="4.8" fill="#ff0000"/>
<rect x="324.38" y="193.71" width="2.1" height="4.8" fill="#00ff00"/>
<rect x="326.48" y="193.71" width="7.2" height="4.8" fill="#ffff00"/>
<rect x="206.3" y="185.8" width="53.95" height="4.8" fill="#ff0000"/>
<rect x="260.25" y="185.8" width="9.12" height="4.8" fill="#00ff00"/>
<rect x="269.36" y="185.8" width="64.32" height="4.8" fill="#ffff00"/>
<rect x="206.3" y="177.88" width="121.27" height="4.8" fill="#ff0000"/>
<rect x="327.57" y="177.88" width="1.4" height="4.8" fill="#00ff00"/>
<rect x="328.97" y="177.88" width="4.72" height="4.8" fill="#ffff00"/>
<rect x="206.3" y="169.96" width="106.99" height="4.8" fill="#ff0000"/>
<rect x="313.29" y="169.96" width="1.78" height="4.8" fill="#00ff00"/>
<rect x="315.07" y="169.96" width="18.61" height="4.8" fill="#ffff00"/>
<rect x="206.3" y="162.05" width="121.84" height="4.8" fill="#ff0000"/>
<rect x="328.14" y="162.05" width="0.83" height="4.8" fill="#00ff00"/>
<rect x="328.97" y="162.05" width="4.72" height="4.8" fill="#ffff00"/>
<rect x="206.3" y="154.13" width="113.87" height="4.8" fill="#ff0000"/>
<rect x="320.17" y="154.13" width="2.74" height="4.8" fill="#00ff00"/>
<rect x="322.91" y="154.13" width="10.77" height="4.8" fill="#ffff00"/>
<rect x="206.3" y="146.21" width="111.26" height="4.8" fill="#ff0000"/>
<rect x="317.56" y="146.21" width="2.61" height="4.8" fill="#00ff00"/>
<rect x="320.17" y="146.21" width="13.51" height="4.8" fill="#ffff00"/>
<rect x="206.3" y="138.3" width="103.8" height="4.8" fill="#ff0000"/>
<rect x="310.1" y="138.3" width="3.06" height="4.8" fill="#00ff00"/>
<rect x="313.16" y="138.3" width="20.53" height="4.8" fill="#ffff00"/>
<rect x="206.3" y="130.38" width="103.93" height="4.8" fill="#ff0000"/>
<rect x="310.23" y="130.38" width="4.97" height="4.8" fill="#00ff00"/>
<rect x="315.2" y="130.38" width="18.49" height="4.8" fill="#ffff00"/>
<path d="M205.5 125.5H358.85V235.5H205.5" fill="none" stroke="#6a6a6a" stroke-width="0.7"/>
<path d="M205.85 125.5V235.5" fill="none" stroke="#b4b4b4" stroke-width="0.7"/>
<line x1="204.45" y1="235.5" x2="205.65" y2="235.5" stroke="#555" stroke-width="0.7"/>
<text x="202.05" y="237.44" font-size="5.4" text-anchor="end">0</text>
<line x1="204.45" y1="227.78" x2="205.65" y2="227.78" stroke="#555" stroke-width="0.7"/>
<text x="202.05" y="229.73" font-size="5.4" text-anchor="end">1</text>
<line x1="204.45" y1="219.87" x2="205.65" y2="219.87" stroke="#555" stroke-width="0.7"/>
<text x="202.05" y="221.81" font-size="5.4" text-anchor="end">2</text>
<line x1="204.45" y1="211.95" x2="205.65" y2="211.95" stroke="#555" stroke-width="0.7"/>
<text x="202.05" y="213.89" font-size="5.4" text-anchor="end">3</text>
<line x1="204.45" y1="204.03" x2="205.65" y2="204.03" stroke="#555" stroke-width="0.7"/>
<text x="202.05" y="205.98" font-size="5.4" text-anchor="end">4</text>
<line x1="204.45" y1="196.11" x2="205.65" y2="196.11" stroke="#555" stroke-width="0.7"/>
<text x="202.05" y="198.06" font-size="5.4" text-anchor="end">5</text>
<line x1="204.45" y1="188.2" x2="205.65" y2="188.2" stroke="#555" stroke-width="0.7"/>
<text x="202.05" y="190.14" font-size="5.4" text-anchor="end">6</text>
<line x1="204.45" y1="180.28" x2="205.65" y2="180.28" stroke="#555" stroke-width="0.7"/>
<text x="202.05" y="182.22" font-size="5.4" text-anchor="end">7</text>
<line x1="204.45" y1="172.36" x2="205.65" y2="172.36" stroke="#555" stroke-width="0.7"/>
<text x="202.05" y="174.31" font-size="5.4" text-anchor="end">8</text>
<line x1="204.45" y1="164.45" x2="205.65" y2="164.45" stroke="#555" stroke-width="0.7"/>
<text x="202.05" y="166.39" font-size="5.4" text-anchor="end">9</text>
<line x1="204.45" y1="156.53" x2="205.65" y2="156.53" stroke="#555" stroke-width="0.7"/>
<text x="202.05" y="158.47" font-size="5.4" text-anchor="end">10</text>
<line x1="204.45" y1="148.61" x2="205.65" y2="148.61" stroke="#555" stroke-width="0.7"/>
<text x="202.05" y="150.56" font-size="5.4" text-anchor="end">11</text>
<line x1="204.45" y1="140.7" x2="205.65" y2="140.7" stroke="#555" stroke-width="0.7"/>
<text x="202.05" y="142.64" font-size="5.4" text-anchor="end">12</text>
<line x1="204.45" y1="132.78" x2="205.65" y2="132.78" stroke="#555" stroke-width="0.7"/>
<text x="202.05" y="134.72" font-size="5.4" text-anchor="end">13</text>
<line x1="206.3" y1="235.7" x2="206.3" y2="236.9" stroke="#555" stroke-width="0.7"/>
<text x="206.3" y="244.4" font-size="5.4" text-anchor="middle">0</text>
<line x1="231.8" y1="235.7" x2="231.8" y2="236.9" stroke="#555" stroke-width="0.7"/>
<text x="231.8" y="244.4" font-size="5.4" text-anchor="middle">20</text>
<line x1="257.3" y1="235.7" x2="257.3" y2="236.9" stroke="#555" stroke-width="0.7"/>
<text x="257.3" y="244.4" font-size="5.4" text-anchor="middle">40</text>
<line x1="282.8" y1="235.7" x2="282.8" y2="236.9" stroke="#555" stroke-width="0.7"/>
<text x="282.8" y="244.4" font-size="5.4" text-anchor="middle">60</text>
<line x1="308.3" y1="235.7" x2="308.3" y2="236.9" stroke="#555" stroke-width="0.7"/>
<text x="308.3" y="244.4" font-size="5.4" text-anchor="middle">80</text>
<line x1="333.8" y1="235.7" x2="333.8" y2="236.9" stroke="#555" stroke-width="0.7"/>
<text x="333.8" y="244.4" font-size="5.4" text-anchor="middle">100</text>
<line x1="359.3" y1="235.7" x2="359.3" y2="236.9" stroke="#555" stroke-width="0.7"/>
<text x="359.3" y="244.4" font-size="5.4" text-anchor="middle">120</text>
<text transform="translate(190.75 180.5) rotate(-90)" font-size="5.95" text-anchor="middle">Acylated (Flesh)</text>
<text x="349.25" y="136.4" font-size="13.2" text-anchor="middle" font-weight="bold" fill="#000">e</text>
<rect x="206.3" y="347.63" width="112.21" height="4.8" fill="#ff0000"/>
<rect x="318.51" y="347.63" width="4.53" height="4.8" fill="#00ff00"/>
<rect x="323.04" y="347.63" width="10.14" height="4.8" fill="#ffff00"/>
<rect x="333.18" y="347.63" width="0.51" height="4.8" fill="#444444"/>
<rect x="206.3" y="339.72" width="104.18" height="4.8" fill="#ff0000"/>
<rect x="310.48" y="339.72" width="4.72" height="4.8" fill="#00ff00"/>
<rect x="315.2" y="339.72" width="17.98" height="4.8" fill="#ffff00"/>
<rect x="333.18" y="339.72" width="0.51" height="4.8" fill="#444444"/>
<rect x="206.3" y="331.8" width="109.73" height="4.8" fill="#ff0000"/>
<rect x="316.03" y="331.8" width="6.25" height="4.8" fill="#00ff00"/>
<rect x="322.27" y="331.8" width="11.41" height="4.8" fill="#ffff00"/>
<rect x="206.3" y="323.88" width="74.22" height="4.8" fill="#ff0000"/>
<rect x="280.52" y="323.88" width="10.01" height="4.8" fill="#00ff00"/>
<rect x="290.53" y="323.88" width="43.16" height="4.8" fill="#ffff00"/>
<rect x="206.3" y="315.97" width="98.95" height="4.8" fill="#ff0000"/>
<rect x="305.25" y="315.97" width="5.86" height="4.8" fill="#00ff00"/>
<rect x="311.12" y="315.97" width="22.57" height="4.8" fill="#ffff00"/>
<rect x="206.3" y="308.05" width="54.84" height="4.8" fill="#ff0000"/>
<rect x="261.14" y="308.05" width="12.56" height="4.8" fill="#00ff00"/>
<rect x="273.7" y="308.05" width="59.99" height="4.8" fill="#ffff00"/>
<rect x="206.3" y="300.13" width="112.85" height="4.8" fill="#ff0000"/>
<rect x="319.15" y="300.13" width="3.12" height="4.8" fill="#00ff00"/>
<rect x="322.27" y="300.13" width="11.41" height="4.8" fill="#ffff00"/>
<rect x="206.3" y="292.21" width="89.9" height="4.8" fill="#ff0000"/>
<rect x="296.2" y="292.21" width="6.12" height="4.8" fill="#00ff00"/>
<rect x="302.32" y="292.21" width="31.36" height="4.8" fill="#ffff00"/>
<rect x="206.3" y="284.3" width="118.27" height="4.8" fill="#ff0000"/>
<rect x="324.57" y="284.3" width="0.7" height="4.8" fill="#00ff00"/>
<rect x="325.27" y="284.3" width="8.41" height="4.8" fill="#ffff00"/>
<rect x="206.3" y="276.38" width="109.66" height="4.8" fill="#ff0000"/>
<rect x="315.96" y="276.38" width="4.14" height="4.8" fill="#00ff00"/>
<rect x="320.11" y="276.38" width="13.58" height="4.8" fill="#ffff00"/>
<rect x="206.3" y="268.46" width="104.69" height="4.8" fill="#ff0000"/>
<rect x="310.99" y="268.46" width="5.16" height="4.8" fill="#00ff00"/>
<rect x="316.15" y="268.46" width="17.53" height="4.8" fill="#ffff00"/>
<rect x="206.3" y="260.55" width="98.95" height="4.8" fill="#ff0000"/>
<rect x="305.25" y="260.55" width="7.59" height="4.8" fill="#00ff00"/>
<rect x="312.84" y="260.55" width="20.85" height="4.8" fill="#ffff00"/>
<rect x="206.3" y="252.63" width="88.69" height="4.8" fill="#ff0000"/>
<rect x="294.99" y="252.63" width="6.06" height="4.8" fill="#00ff00"/>
<rect x="301.05" y="252.63" width="32.64" height="4.8" fill="#ffff00"/>
<path d="M205.5 247.75H358.85V357.75H205.5" fill="none" stroke="#6a6a6a" stroke-width="0.7"/>
<path d="M205.85 247.75V357.75" fill="none" stroke="#b4b4b4" stroke-width="0.7"/>
<line x1="204.45" y1="357.75" x2="205.65" y2="357.75" stroke="#555" stroke-width="0.7"/>
<text x="202.05" y="359.69" font-size="5.4" text-anchor="end">0</text>
<line x1="204.45" y1="350.03" x2="205.65" y2="350.03" stroke="#555" stroke-width="0.7"/>
<text x="202.05" y="351.98" font-size="5.4" text-anchor="end">1</text>
<line x1="204.45" y1="342.12" x2="205.65" y2="342.12" stroke="#555" stroke-width="0.7"/>
<text x="202.05" y="344.06" font-size="5.4" text-anchor="end">2</text>
<line x1="204.45" y1="334.2" x2="205.65" y2="334.2" stroke="#555" stroke-width="0.7"/>
<text x="202.05" y="336.14" font-size="5.4" text-anchor="end">3</text>
<line x1="204.45" y1="326.28" x2="205.65" y2="326.28" stroke="#555" stroke-width="0.7"/>
<text x="202.05" y="328.23" font-size="5.4" text-anchor="end">4</text>
<line x1="204.45" y1="318.37" x2="205.65" y2="318.37" stroke="#555" stroke-width="0.7"/>
<text x="202.05" y="320.31" font-size="5.4" text-anchor="end">5</text>
<line x1="204.45" y1="310.45" x2="205.65" y2="310.45" stroke="#555" stroke-width="0.7"/>
<text x="202.05" y="312.39" font-size="5.4" text-anchor="end">6</text>
<line x1="204.45" y1="302.53" x2="205.65" y2="302.53" stroke="#555" stroke-width="0.7"/>
<text x="202.05" y="304.48" font-size="5.4" text-anchor="end">7</text>
<line x1="204.45" y1="294.61" x2="205.65" y2="294.61" stroke="#555" stroke-width="0.7"/>
<text x="202.05" y="296.56" font-size="5.4" text-anchor="end">8</text>
<line x1="204.45" y1="286.7" x2="205.65" y2="286.7" stroke="#555" stroke-width="0.7"/>
<text x="202.05" y="288.64" font-size="5.4" text-anchor="end">9</text>
<line x1="204.45" y1="278.78" x2="205.65" y2="278.78" stroke="#555" stroke-width="0.7"/>
<text x="202.05" y="280.72" font-size="5.4" text-anchor="end">10</text>
<line x1="204.45" y1="270.86" x2="205.65" y2="270.86" stroke="#555" stroke-width="0.7"/>
<text x="202.05" y="272.81" font-size="5.4" text-anchor="end">11</text>
<line x1="204.45" y1="262.95" x2="205.65" y2="262.95" stroke="#555" stroke-width="0.7"/>
<text x="202.05" y="264.89" font-size="5.4" text-anchor="end">12</text>
<line x1="204.45" y1="255.03" x2="205.65" y2="255.03" stroke="#555" stroke-width="0.7"/>
<text x="202.05" y="256.97" font-size="5.4" text-anchor="end">13</text>
<line x1="206.3" y1="357.95" x2="206.3" y2="359.15" stroke="#555" stroke-width="0.7"/>
<text x="206.3" y="366.65" font-size="5.4" text-anchor="middle">0</text>
<line x1="231.8" y1="357.95" x2="231.8" y2="359.15" stroke="#555" stroke-width="0.7"/>
<text x="231.8" y="366.65" font-size="5.4" text-anchor="middle">20</text>
<line x1="257.3" y1="357.95" x2="257.3" y2="359.15" stroke="#555" stroke-width="0.7"/>
<text x="257.3" y="366.65" font-size="5.4" text-anchor="middle">40</text>
<line x1="282.8" y1="357.95" x2="282.8" y2="359.15" stroke="#555" stroke-width="0.7"/>
<text x="282.8" y="366.65" font-size="5.4" text-anchor="middle">60</text>
<line x1="308.3" y1="357.95" x2="308.3" y2="359.15" stroke="#555" stroke-width="0.7"/>
<text x="308.3" y="366.65" font-size="5.4" text-anchor="middle">80</text>
<line x1="333.8" y1="357.95" x2="333.8" y2="359.15" stroke="#555" stroke-width="0.7"/>
<text x="333.8" y="366.65" font-size="5.4" text-anchor="middle">100</text>
<line x1="359.3" y1="357.95" x2="359.3" y2="359.15" stroke="#555" stroke-width="0.7"/>
<text x="359.3" y="366.65" font-size="5.4" text-anchor="middle">120</text>
<text transform="translate(190.75 302.75) rotate(-90)" font-size="5.95" text-anchor="middle">Acylated (Peel)</text>
<text x="282.35" y="377.15" font-size="6.1" text-anchor="middle">Percent</text>
<text x="348.9" y="261.65" font-size="13.2" text-anchor="middle" font-weight="bold" fill="#000">f</text>
<rect x="389.4" y="103.38" width="56.37" height="4.8" fill="#ff0000"/>
<rect x="445.77" y="103.38" width="71.13" height="4.8" fill="#00ff00"/>
<rect x="389.4" y="95.47" width="67.27" height="4.8" fill="#ff0000"/>
<rect x="456.67" y="95.47" width="60.23" height="4.8" fill="#00ff00"/>
<rect x="389.4" y="87.55" width="55.16" height="4.8" fill="#ff0000"/>
<rect x="444.56" y="87.55" width="72.34" height="4.8" fill="#00ff00"/>
<rect x="389.4" y="79.63" width="127.5" height="4.8" fill="#00ff00"/>
<rect x="389.4" y="71.72" width="64.53" height="4.8" fill="#ff0000"/>
<rect x="453.93" y="71.72" width="62.97" height="4.8" fill="#00ff00"/>
<rect x="389.4" y="63.8" width="127.5" height="4.8" fill="#00ff00"/>
<rect x="389.4" y="55.88" width="52.99" height="4.8" fill="#ff0000"/>
<rect x="442.39" y="55.88" width="74.51" height="4.8" fill="#00ff00"/>
<rect x="389.4" y="47.96" width="127.5" height="4.8" fill="#00ff00"/>
<rect x="389.4" y="40.05" width="71.86" height="4.8" fill="#ff0000"/>
<rect x="461.26" y="40.05" width="55.64" height="4.8" fill="#00ff00"/>
<rect x="389.4" y="32.13" width="59.11" height="4.8" fill="#ff0000"/>
<rect x="448.51" y="32.13" width="68.39" height="4.8" fill="#00ff00"/>
<rect x="389.4" y="24.21" width="127.5" height="4.8" fill="#00ff00"/>
<rect x="389.4" y="16.3" width="50.76" height="4.8" fill="#ff0000"/>
<rect x="440.16" y="16.3" width="76.74" height="4.8" fill="#00ff00"/>
<rect x="389.4" y="8.38" width="73.45" height="4.8" fill="#ff0000"/>
<rect x="462.85" y="8.38" width="54.05" height="4.8" fill="#00ff00"/>
<path d="M388.75 3.5H542.1V113.5H388.75" fill="none" stroke="#6a6a6a" stroke-width="0.7"/>
<path d="M389.1 3.5V113.5" fill="none" stroke="#b4b4b4" stroke-width="0.7"/>
<line x1="387.7" y1="113.5" x2="388.9" y2="113.5" stroke="#555" stroke-width="0.7"/>
<text x="385.3" y="115.44" font-size="5.4" text-anchor="end">0</text>
<line x1="387.7" y1="105.78" x2="388.9" y2="105.78" stroke="#555" stroke-width="0.7"/>
<text x="385.3" y="107.73" font-size="5.4" text-anchor="end">1</text>
<line x1="387.7" y1="97.87" x2="388.9" y2="97.87" stroke="#555" stroke-width="0.7"/>
<text x="385.3" y="99.81" font-size="5.4" text-anchor="end">2</text>
<line x1="387.7" y1="89.95" x2="388.9" y2="89.95" stroke="#555" stroke-width="0.7"/>
<text x="385.3" y="91.89" font-size="5.4" text-anchor="end">3</text>
<line x1="387.7" y1="82.03" x2="388.9" y2="82.03" stroke="#555" stroke-width="0.7"/>
<text x="385.3" y="83.98" font-size="5.4" text-anchor="end">4</text>
<line x1="387.7" y1="74.12" x2="388.9" y2="74.12" stroke="#555" stroke-width="0.7"/>
<text x="385.3" y="76.06" font-size="5.4" text-anchor="end">5</text>
<line x1="387.7" y1="66.2" x2="388.9" y2="66.2" stroke="#555" stroke-width="0.7"/>
<text x="385.3" y="68.14" font-size="5.4" text-anchor="end">6</text>
<line x1="387.7" y1="58.28" x2="388.9" y2="58.28" stroke="#555" stroke-width="0.7"/>
<text x="385.3" y="60.23" font-size="5.4" text-anchor="end">7</text>
<line x1="387.7" y1="50.36" x2="388.9" y2="50.36" stroke="#555" stroke-width="0.7"/>
<text x="385.3" y="52.31" font-size="5.4" text-anchor="end">8</text>
<line x1="387.7" y1="42.45" x2="388.9" y2="42.45" stroke="#555" stroke-width="0.7"/>
<text x="385.3" y="44.39" font-size="5.4" text-anchor="end">9</text>
<line x1="387.7" y1="34.53" x2="388.9" y2="34.53" stroke="#555" stroke-width="0.7"/>
<text x="385.3" y="36.47" font-size="5.4" text-anchor="end">10</text>
<line x1="387.7" y1="26.61" x2="388.9" y2="26.61" stroke="#555" stroke-width="0.7"/>
<text x="385.3" y="28.56" font-size="5.4" text-anchor="end">11</text>
<line x1="387.7" y1="18.7" x2="388.9" y2="18.7" stroke="#555" stroke-width="0.7"/>
<text x="385.3" y="20.64" font-size="5.4" text-anchor="end">12</text>
<line x1="387.7" y1="10.78" x2="388.9" y2="10.78" stroke="#555" stroke-width="0.7"/>
<text x="385.3" y="12.72" font-size="5.4" text-anchor="end">13</text>
<line x1="389.4" y1="113.7" x2="389.4" y2="114.9" stroke="#555" stroke-width="0.7"/>
<text x="389.4" y="122.4" font-size="5.4" text-anchor="middle">0</text>
<line x1="414.9" y1="113.7" x2="414.9" y2="114.9" stroke="#555" stroke-width="0.7"/>
<text x="414.9" y="122.4" font-size="5.4" text-anchor="middle">20</text>
<line x1="440.4" y1="113.7" x2="440.4" y2="114.9" stroke="#555" stroke-width="0.7"/>
<text x="440.4" y="122.4" font-size="5.4" text-anchor="middle">40</text>
<line x1="465.9" y1="113.7" x2="465.9" y2="114.9" stroke="#555" stroke-width="0.7"/>
<text x="465.9" y="122.4" font-size="5.4" text-anchor="middle">60</text>
<line x1="491.4" y1="113.7" x2="491.4" y2="114.9" stroke="#555" stroke-width="0.7"/>
<text x="491.4" y="122.4" font-size="5.4" text-anchor="middle">80</text>
<line x1="516.9" y1="113.7" x2="516.9" y2="114.9" stroke="#555" stroke-width="0.7"/>
<text x="516.9" y="122.4" font-size="5.4" text-anchor="middle">100</text>
<line x1="542.4" y1="113.7" x2="542.4" y2="114.9" stroke="#555" stroke-width="0.7"/>
<text x="542.4" y="122.4" font-size="5.4" text-anchor="middle">120</text>
<text transform="translate(374 58.5) rotate(-90)" font-size="5.95" text-anchor="middle">Glycoside (Berry)</text>
<text x="534.4" y="15.4" font-size="13.2" text-anchor="middle" font-weight="bold" fill="#000">h</text>
<rect x="389.4" y="225.38" width="61.15" height="4.8" fill="#ff0000"/>
<rect x="450.55" y="225.38" width="66.35" height="4.8" fill="#00ff00"/>
<rect x="389.4" y="217.47" width="61.85" height="4.8" fill="#ff0000"/>
<rect x="451.25" y="217.47" width="65.65" height="4.8" fill="#00ff00"/>
<rect x="389.4" y="209.55" width="62.3" height="4.8" fill="#ff0000"/>
<rect x="451.7" y="209.55" width="65.2" height="4.8" fill="#00ff00"/>
<rect x="389.4" y="201.63" width="127.5" height="4.8" fill="#00ff00"/>
<rect x="389.4" y="193.71" width="60.45" height="4.8" fill="#ff0000"/>
<rect x="449.85" y="193.71" width="67.05" height="4.8" fill="#00ff00"/>
<rect x="389.4" y="185.8" width="127.5" height="4.8" fill="#00ff00"/>
<rect x="389.4" y="177.88" width="50.12" height="4.8" fill="#ff0000"/>
<rect x="439.52" y="177.88" width="77.38" height="4.8" fill="#00ff00"/>
<rect x="389.4" y="169.96" width="127.5" height="4.8" fill="#00ff00"/>
<rect x="389.4" y="162.05" width="83.97" height="4.8" fill="#ff0000"/>
<rect x="473.37" y="162.05" width="43.53" height="4.8" fill="#00ff00"/>
<rect x="389.4" y="154.13" width="67.14" height="4.8" fill="#ff0000"/>
<rect x="456.54" y="154.13" width="60.36" height="4.8" fill="#00ff00"/>
<rect x="389.4" y="146.21" width="127.5" height="4.8" fill="#00ff00"/>
<rect x="389.4" y="138.3" width="39.28" height="4.8" fill="#ff0000"/>
<rect x="428.68" y="138.3" width="88.22" height="4.8" fill="#00ff00"/>
<rect x="389.4" y="130.38" width="75.88" height="4.8" fill="#ff0000"/>
<rect x="465.28" y="130.38" width="51.62" height="4.8" fill="#00ff00"/>
<path d="M388.75 125.5H542.1V235.5H388.75" fill="none" stroke="#6a6a6a" stroke-width="0.7"/>
<path d="M389.1 125.5V235.5" fill="none" stroke="#b4b4b4" stroke-width="0.7"/>
<line x1="387.7" y1="235.5" x2="388.9" y2="235.5" stroke="#555" stroke-width="0.7"/>
<text x="385.3" y="237.44" font-size="5.4" text-anchor="end">0</text>
<line x1="387.7" y1="227.78" x2="388.9" y2="227.78" stroke="#555" stroke-width="0.7"/>
<text x="385.3" y="229.73" font-size="5.4" text-anchor="end">1</text>
<line x1="387.7" y1="219.87" x2="388.9" y2="219.87" stroke="#555" stroke-width="0.7"/>
<text x="385.3" y="221.81" font-size="5.4" text-anchor="end">2</text>
<line x1="387.7" y1="211.95" x2="388.9" y2="211.95" stroke="#555" stroke-width="0.7"/>
<text x="385.3" y="213.89" font-size="5.4" text-anchor="end">3</text>
<line x1="387.7" y1="204.03" x2="388.9" y2="204.03" stroke="#555" stroke-width="0.7"/>
<text x="385.3" y="205.98" font-size="5.4" text-anchor="end">4</text>
<line x1="387.7" y1="196.11" x2="388.9" y2="196.11" stroke="#555" stroke-width="0.7"/>
<text x="385.3" y="198.06" font-size="5.4" text-anchor="end">5</text>
<line x1="387.7" y1="188.2" x2="388.9" y2="188.2" stroke="#555" stroke-width="0.7"/>
<text x="385.3" y="190.14" font-size="5.4" text-anchor="end">6</text>
<line x1="387.7" y1="180.28" x2="388.9" y2="180.28" stroke="#555" stroke-width="0.7"/>
<text x="385.3" y="182.22" font-size="5.4" text-anchor="end">7</text>
<line x1="387.7" y1="172.36" x2="388.9" y2="172.36" stroke="#555" stroke-width="0.7"/>
<text x="385.3" y="174.31" font-size="5.4" text-anchor="end">8</text>
<line x1="387.7" y1="164.45" x2="388.9" y2="164.45" stroke="#555" stroke-width="0.7"/>
<text x="385.3" y="166.39" font-size="5.4" text-anchor="end">9</text>
<line x1="387.7" y1="156.53" x2="388.9" y2="156.53" stroke="#555" stroke-width="0.7"/>
<text x="385.3" y="158.47" font-size="5.4" text-anchor="end">10</text>
<line x1="387.7" y1="148.61" x2="388.9" y2="148.61" stroke="#555" stroke-width="0.7"/>
<text x="385.3" y="150.56" font-size="5.4" text-anchor="end">11</text>
<line x1="387.7" y1="140.7" x2="388.9" y2="140.7" stroke="#555" stroke-width="0.7"/>
<text x="385.3" y="142.64" font-size="5.4" text-anchor="end">12</text>
<line x1="387.7" y1="132.78" x2="388.9" y2="132.78" stroke="#555" stroke-width="0.7"/>
<text x="385.3" y="134.72" font-size="5.4" text-anchor="end">13</text>
<line x1="389.4" y1="235.7" x2="389.4" y2="236.9" stroke="#555" stroke-width="0.7"/>
<text x="389.4" y="244.4" font-size="5.4" text-anchor="middle">0</text>
<line x1="414.9" y1="235.7" x2="414.9" y2="236.9" stroke="#555" stroke-width="0.7"/>
<text x="414.9" y="244.4" font-size="5.4" text-anchor="middle">20</text>
<line x1="440.4" y1="235.7" x2="440.4" y2="236.9" stroke="#555" stroke-width="0.7"/>
<text x="440.4" y="244.4" font-size="5.4" text-anchor="middle">40</text>
<line x1="465.9" y1="235.7" x2="465.9" y2="236.9" stroke="#555" stroke-width="0.7"/>
<text x="465.9" y="244.4" font-size="5.4" text-anchor="middle">60</text>
<line x1="491.4" y1="235.7" x2="491.4" y2="236.9" stroke="#555" stroke-width="0.7"/>
<text x="491.4" y="244.4" font-size="5.4" text-anchor="middle">80</text>
<line x1="516.9" y1="235.7" x2="516.9" y2="236.9" stroke="#555" stroke-width="0.7"/>
<text x="516.9" y="244.4" font-size="5.4" text-anchor="middle">100</text>
<line x1="542.4" y1="235.7" x2="542.4" y2="236.9" stroke="#555" stroke-width="0.7"/>
<text x="542.4" y="244.4" font-size="5.4" text-anchor="middle">120</text>
<text transform="translate(374 180.5) rotate(-90)" font-size="5.95" text-anchor="middle">Glycoside (Flesh)</text>
<text x="534.9" y="137.5" font-size="13.2" text-anchor="middle" font-weight="bold" fill="#000">i</text>
<rect x="389.4" y="347.63" width="62.36" height="4.8" fill="#ff0000"/>
<rect x="451.76" y="347.63" width="65.14" height="4.8" fill="#00ff00"/>
<rect x="451.66" y="347.83" width="64.74" height="4.4" fill="none" stroke="#0a5a0a" stroke-width="0.45"/>
<rect x="389.4" y="339.72" width="71.67" height="4.8" fill="#ff0000"/>
<rect x="461.07" y="339.72" width="55.83" height="4.8" fill="#00ff00"/>
<rect x="460.97" y="339.92" width="55.43" height="4.4" fill="none" stroke="#0a5a0a" stroke-width="0.45"/>
<rect x="389.4" y="331.8" width="49.99" height="4.8" fill="#ff0000"/>
<rect x="439.39" y="331.8" width="77.51" height="4.8" fill="#00ff00"/>
<rect x="439.29" y="332" width="77.11" height="4.4" fill="none" stroke="#0a5a0a" stroke-width="0.45"/>
<rect x="389.4" y="323.88" width="127.5" height="4.8" fill="#00ff00"/>
<rect x="389.3" y="324.08" width="127.1" height="4.4" fill="none" stroke="#0a5a0a" stroke-width="0.45"/>
<rect x="389.4" y="315.97" width="52.16" height="4.8" fill="#ff0000"/>
<rect x="441.56" y="315.97" width="75.34" height="4.8" fill="#00ff00"/>
<rect x="441.46" y="316.17" width="74.94" height="4.4" fill="none" stroke="#0a5a0a" stroke-width="0.45"/>
<rect x="389.4" y="308.05" width="127.5" height="4.8" fill="#00ff00"/>
<rect x="389.3" y="308.25" width="127.1" height="4.4" fill="none" stroke="#0a5a0a" stroke-width="0.45"/>
<rect x="389.4" y="300.13" width="55.35" height="4.8" fill="#ff0000"/>
<rect x="444.75" y="300.13" width="72.15" height="4.8" fill="#00ff00"/>
<rect x="444.65" y="300.33" width="71.75" height="4.4" fill="none" stroke="#0a5a0a" stroke-width="0.45"/>
<rect x="389.4" y="292.21" width="127.5" height="4.8" fill="#00ff00"/>
<rect x="389.3" y="292.41" width="127.1" height="4.4" fill="none" stroke="#0a5a0a" stroke-width="0.45"/>
<rect x="389.4" y="284.3" width="67.78" height="4.8" fill="#ff0000"/>
<rect x="457.18" y="284.3" width="59.72" height="4.8" fill="#00ff00"/>
<rect x="457.08" y="284.5" width="59.32" height="4.4" fill="none" stroke="#0a5a0a" stroke-width="0.45"/>
<rect x="389.4" y="276.38" width="58.66" height="4.8" fill="#ff0000"/>
<rect x="448.06" y="276.38" width="68.84" height="4.8" fill="#00ff00"/>
<rect x="447.96" y="276.58" width="68.44" height="4.4" fill="none" stroke="#0a5a0a" stroke-width="0.45"/>
<rect x="389.4" y="268.46" width="127.5" height="4.8" fill="#00ff00"/>
<rect x="389.3" y="268.66" width="127.1" height="4.4" fill="none" stroke="#0a5a0a" stroke-width="0.45"/>
<rect x="389.4" y="260.55" width="49.99" height="4.8" fill="#ff0000"/>
<rect x="439.39" y="260.55" width="77.51" height="4.8" fill="#00ff00"/>
<rect x="439.29" y="260.75" width="77.11" height="4.4" fill="none" stroke="#0a5a0a" stroke-width="0.45"/>
<rect x="389.4" y="252.63" width="69.31" height="4.8" fill="#ff0000"/>
<rect x="458.71" y="252.63" width="58.19" height="4.8" fill="#00ff00"/>
<rect x="458.61" y="252.83" width="57.79" height="4.4" fill="none" stroke="#0a5a0a" stroke-width="0.45"/>
<path d="M388.75 247.75H542.1V357.75H388.75" fill="none" stroke="#6a6a6a" stroke-width="0.7"/>
<path d="M389.1 247.75V357.75" fill="none" stroke="#b4b4b4" stroke-width="0.7"/>
<line x1="387.7" y1="357.75" x2="388.9" y2="357.75" stroke="#555" stroke-width="0.7"/>
<text x="385.3" y="359.69" font-size="5.4" text-anchor="end">0</text>
<line x1="387.7" y1="350.03" x2="388.9" y2="350.03" stroke="#555" stroke-width="0.7"/>
<text x="385.3" y="351.98" font-size="5.4" text-anchor="end">1</text>
<line x1="387.7" y1="342.12" x2="388.9" y2="342.12" stroke="#555" stroke-width="0.7"/>
<text x="385.3" y="344.06" font-size="5.4" text-anchor="end">2</text>
<line x1="387.7" y1="334.2" x2="388.9" y2="334.2" stroke="#555" stroke-width="0.7"/>
<text x="385.3" y="336.14" font-size="5.4" text-anchor="end">3</text>
<line x1="387.7" y1="326.28" x2="388.9" y2="326.28" stroke="#555" stroke-width="0.7"/>
<text x="385.3" y="328.23" font-size="5.4" text-anchor="end">4</text>
<line x1="387.7" y1="318.37" x2="388.9" y2="318.37" stroke="#555" stroke-width="0.7"/>
<text x="385.3" y="320.31" font-size="5.4" text-anchor="end">5</text>
<line x1="387.7" y1="310.45" x2="388.9" y2="310.45" stroke="#555" stroke-width="0.7"/>
<text x="385.3" y="312.39" font-size="5.4" text-anchor="end">6</text>
<line x1="387.7" y1="302.53" x2="388.9" y2="302.53" stroke="#555" stroke-width="0.7"/>
<text x="385.3" y="304.48" font-size="5.4" text-anchor="end">7</text>
<line x1="387.7" y1="294.61" x2="388.9" y2="294.61" stroke="#555" stroke-width="0.7"/>
<text x="385.3" y="296.56" font-size="5.4" text-anchor="end">8</text>
<line x1="387.7" y1="286.7" x2="388.9" y2="286.7" stroke="#555" stroke-width="0.7"/>
<text x="385.3" y="288.64" font-size="5.4" text-anchor="end">9</text>
<line x1="387.7" y1="278.78" x2="388.9" y2="278.78" stroke="#555" stroke-width="0.7"/>
<text x="385.3" y="280.72" font-size="5.4" text-anchor="end">10</text>
<line x1="387.7" y1="270.86" x2="388.9" y2="270.86" stroke="#555" stroke-width="0.7"/>
<text x="385.3" y="272.81" font-size="5.4" text-anchor="end">11</text>
<line x1="387.7" y1="262.95" x2="388.9" y2="262.95" stroke="#555" stroke-width="0.7"/>
<text x="385.3" y="264.89" font-size="5.4" text-anchor="end">12</text>
<line x1="387.7" y1="255.03" x2="388.9" y2="255.03" stroke="#555" stroke-width="0.7"/>
<text x="385.3" y="256.97" font-size="5.4" text-anchor="end">13</text>
<line x1="389.4" y1="357.95" x2="389.4" y2="359.15" stroke="#555" stroke-width="0.7"/>
<text x="389.4" y="366.65" font-size="5.4" text-anchor="middle">0</text>
<line x1="414.9" y1="357.95" x2="414.9" y2="359.15" stroke="#555" stroke-width="0.7"/>
<text x="414.9" y="366.65" font-size="5.4" text-anchor="middle">20</text>
<line x1="440.4" y1="357.95" x2="440.4" y2="359.15" stroke="#555" stroke-width="0.7"/>
<text x="440.4" y="366.65" font-size="5.4" text-anchor="middle">40</text>
<line x1="465.9" y1="357.95" x2="465.9" y2="359.15" stroke="#555" stroke-width="0.7"/>
<text x="465.9" y="366.65" font-size="5.4" text-anchor="middle">60</text>
<line x1="491.4" y1="357.95" x2="491.4" y2="359.15" stroke="#555" stroke-width="0.7"/>
<text x="491.4" y="366.65" font-size="5.4" text-anchor="middle">80</text>
<line x1="516.9" y1="357.95" x2="516.9" y2="359.15" stroke="#555" stroke-width="0.7"/>
<text x="516.9" y="366.65" font-size="5.4" text-anchor="middle">100</text>
<line x1="542.4" y1="357.95" x2="542.4" y2="359.15" stroke="#555" stroke-width="0.7"/>
<text x="542.4" y="366.65" font-size="5.4" text-anchor="middle">120</text>
<text transform="translate(374 302.75) rotate(-90)" font-size="5.95" text-anchor="middle">Glycoside (Peel)</text>
<text x="465.6" y="377.15" font-size="6.1" text-anchor="middle">Percent</text>
<text x="534.9" y="260.35" font-size="13.2" text-anchor="middle" font-weight="bold" fill="#000">j</text>
<rect x="152.6" y="27.55" width="9.8" height="3.3" fill="#ff0000"/>
<text x="164.9" y="30.69" font-size="4.15" text-anchor="start" fill="#333" class="lg">Dp</text>
<rect x="152.6" y="32.85" width="9.8" height="3.3" fill="#00ff00"/>
<text x="164.9" y="35.99" font-size="4.15" text-anchor="start" fill="#333" class="lg">Cy</text>
<rect x="152.6" y="38.15" width="9.8" height="3.3" fill="#ffff00"/>
<text x="164.9" y="41.29" font-size="4.15" text-anchor="start" fill="#333" class="lg">Pt</text>
<rect x="152.6" y="43.45" width="9.8" height="3.3" fill="#0000ff"/>
<text x="164.9" y="46.59" font-size="4.15" text-anchor="start" fill="#333" class="lg">Pn</text>
<rect x="152.6" y="48.75" width="9.8" height="3.3" fill="#00ffff"/>
<text x="164.9" y="51.89" font-size="4.15" text-anchor="start" fill="#333" class="lg">Mv</text>
<rect x="337" y="27.95" width="9.8" height="3.3" fill="#ff0000"/>
<text x="348.9" y="31.09" font-size="4.15" text-anchor="start" fill="#333" class="lg">No</text>
<rect x="337" y="33.35" width="9.8" height="3.3" fill="#00ff00"/>
<text x="348.9" y="36.49" font-size="4.15" text-anchor="start" fill="#333" class="lg">Ace</text>
<rect x="337" y="38.75" width="9.8" height="3.3" fill="#ffff00"/>
<text x="348.9" y="41.89" font-size="4.15" text-anchor="start" fill="#333" class="lg">Cou</text>
<rect x="337.3" y="44.45" width="9.2" height="2.7" rx="0.6" fill="#fafafa" stroke="#6a6a6a" stroke-width="0.6"/>
<text x="348.9" y="47.29" font-size="4.15" text-anchor="start" fill="#333" class="lg">Caf</text>
<rect x="519.2" y="25.9" width="9.8" height="3.5" fill="#ff0000"/>
<text x="531.1" y="29.14" font-size="4.15" text-anchor="start" fill="#333" class="lg">2G</text>
<rect x="519.2" y="31.3" width="9.8" height="3.5" fill="#00ff00"/>
<text x="531.1" y="34.54" font-size="4.15" text-anchor="start" fill="#333" class="lg">1G</text>
</svg>
</body></html>
